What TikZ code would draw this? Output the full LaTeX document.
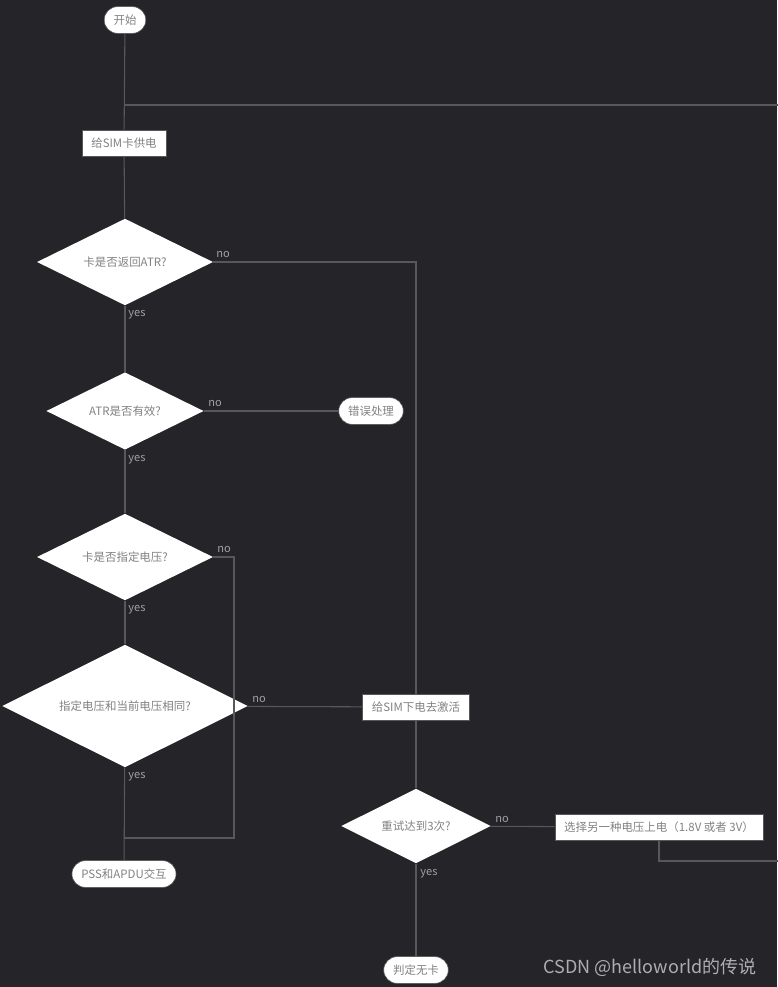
\documentclass[tikz,border=0pt]{standalone}
\usepackage{fontspec}
\setmainfont{Noto Sans CJK SC}
\usetikzlibrary{shapes.geometric}
\definecolor{bgcolor}{RGB}{37,37,41}
\definecolor{linecolor}{RGB}{88,88,92}
\definecolor{txtcolor}{RGB}{130,130,130}
\definecolor{lblcolor}{RGB}{160,160,160}
\tikzset{
    flow/.style={draw=linecolor, line width=0.8pt},
    term/.style={draw=linecolor, fill=white, rounded corners=10pt, text=txtcolor, font=\fontsize{8.6}{9}\selectfont, minimum height=20pt, inner xsep=7pt},
    proc/.style={draw=linecolor, fill=white, text=txtcolor, font=\fontsize{8.6}{9}\selectfont, minimum height=19.5pt, inner xsep=7pt},
    dec/.style={diamond, aspect=2.5, fill=white, text=txtcolor, font=\fontsize{8.6}{9}\selectfont, inner sep=0pt},
    lbl/.style={text=lblcolor, font=\fontsize{8.3}{9}\selectfont, inner sep=0pt}
}
\begin{document}
\begin{tikzpicture}[x=0.75pt, y=-0.75pt]
    % Background
    \fill[bgcolor] (0,0) rectangle (777,987);
    \useasboundingbox (0,0) rectangle (777,987);

    % Nodes
    \node[term] (start) at (125,20) {开始};
    \node[proc] (power) at (124,143) {给SIM卡供电};
    \node[dec, minimum width=132pt, minimum height=65pt] (atr) at (125,262) {卡是否返回ATR?};
    \node[dec, minimum width=118pt, minimum height=58pt] (valid) at (125,411) {ATR是否有效?};
    \node[term] (err) at (371,411) {错误处理};
    \node[dec, minimum width=132pt, minimum height=65pt] (spec) at (125,557) {卡是否指定电压?};
    \node[dec, minimum width=184pt, minimum height=92pt] (same) at (125,706) {指定电压和当前电压相同?};
    \node[term] (pss) at (124,874) {PSS和APDU交互};
    \node[proc] (off) at (416,707) {给SIM下电去激活};
    \node[dec, minimum width=112pt, minimum height=56pt] (retry) at (416,826) {重试达到3次?};
    \node[proc] (other) at (659,827) {选择另一种电压上电（1.8V 或者 3V）};
    \node[term] (nocard) at (416,970) {判定无卡};
    \coordinate (ret) at (124,105);

    % Connectors
    \draw[flow] (start) -- (power);
    \draw[flow] (power) -- (atr);
    \draw[flow] (atr) -- (valid);
    \draw[flow] (valid) -- (spec);
    \draw[flow] (spec) -- (same);
    \draw[flow] (same) -- (pss);
    \draw[flow] (atr.east) -| (off);
    \draw[flow] (valid) -- (err);
    \draw[flow] (spec.east) -- (234,557) |- (124,838);
    \draw[flow] (same) -- (off);
    \draw[flow] (off) -- (retry);
    \draw[flow] (retry) -- (other);
    \draw[flow] (retry) -- (nocard);
    \draw[flow] (other.south) |- (782,861) |- (ret);

    % Labels
    \node[lbl] at (223,254) {no};
    \node[lbl] at (137,315) {yes};
    \node[lbl] at (215,403) {no};
    \node[lbl] at (137,460) {yes};
    \node[lbl] at (224,549) {no};
    \node[lbl] at (137,610) {yes};
    \node[lbl] at (259,699) {no};
    \node[lbl] at (137,777) {yes};
    \node[lbl] at (502,819) {no};
    \node[lbl] at (429,874) {yes};

    % Watermark
    \node[text=lblcolor!85!white, font=\fontsize{13.5}{15}\selectfont, inner sep=0pt] at (650,967) {CSDN @helloworld的传说};
\end{tikzpicture}
\end{document}
